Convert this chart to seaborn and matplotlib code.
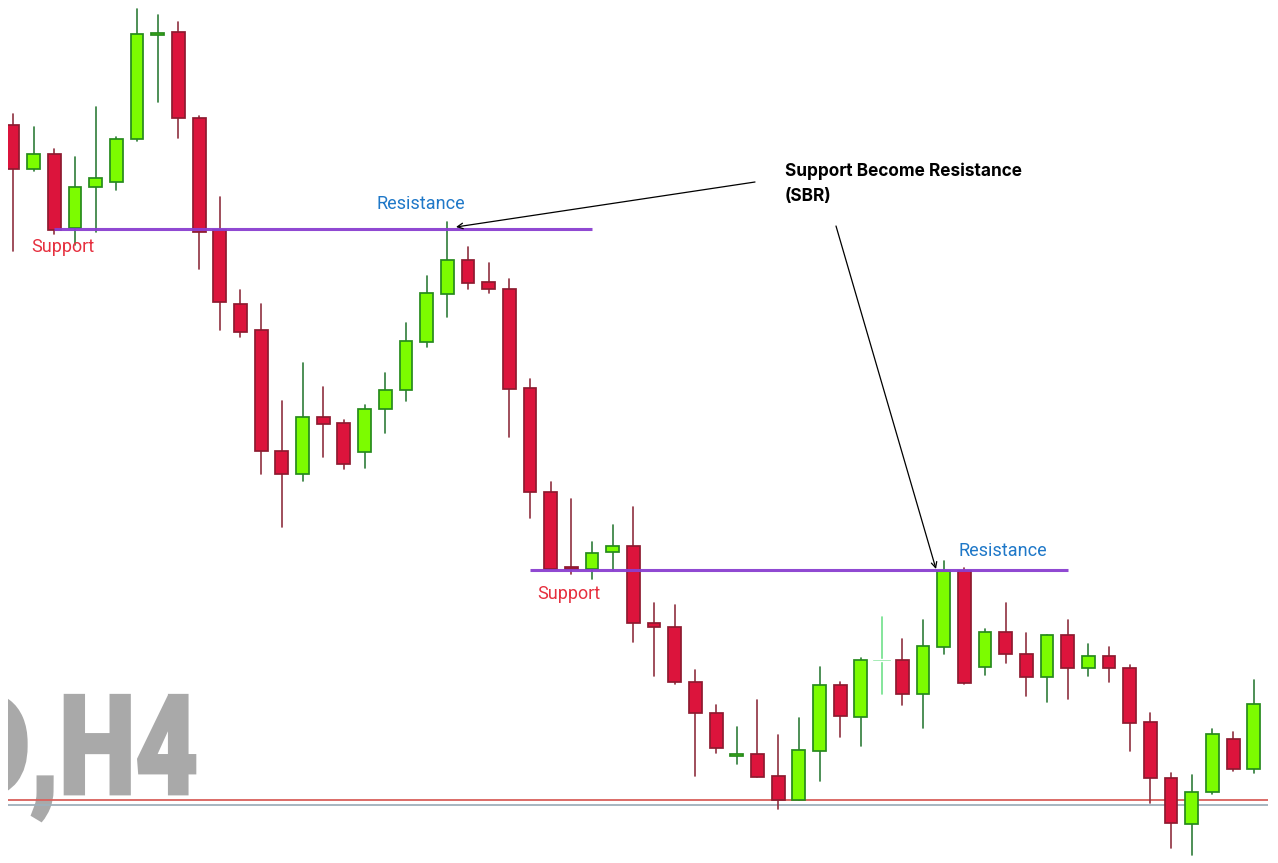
import pandas as pd
import numpy as np
import seaborn as sns
import matplotlib
matplotlib.use("Agg")
import matplotlib.pyplot as plt
from matplotlib.patheffects import AbstractPathEffect
from matplotlib.transforms import Affine2D

# candles, levels are in picture rows (axis runs downwards)
highs = [114, 127, 149, 157, 107, 137, 9, 15, 22, 116,
         197, 290, 304, 401, 363, 387, 420, 405, 373, 323,
         276, 222, 247, 263, 279, 379, 482, 499, 542, 525,
         507, 603, 605, 670, 705, 727, 700, 735, 718, 667,
         682, 658, 617, 639, 620, 561, 568, 629, 603, 633,
         635, 620, 644, 647, 665, 713, 773, 775, 729, 732, 680]
tops = [125, 154, 154, 187, 178, 139, 34, 33, 32, 118,
        230, 304, 330, 451, 417, 417, 423, 409, 390, 341,
        293, 260, 260, 282, 289, 388, 492, 567, 553, 546,
        546, 623, 627, 682, 713, 754, 754, 776, 750, 685,
        685, 660, 659, 660, 646, 571, 571, 632, 632, 654,
        635, 635, 656, 656, 668, 722, 778, 792, 734, 739, 704]
bottoms = [169, 169, 230, 228, 187, 182, 139, 35, 118, 232,
           302, 332, 451, 474, 474, 424, 464, 452, 409, 390,
           342, 294, 283, 289, 389, 492, 569, 569, 569, 552,
           623, 627, 682, 713, 748, 756, 777, 800, 800, 751,
           716, 717, 661, 694, 694, 647, 683, 667, 654, 677,
           677, 668, 668, 668, 723, 778, 823, 824, 792, 769, 769]
lows = [251, 171, 234, 245, 232, 190, 141, 102, 138, 269,
        330, 337, 474, 527, 481, 457, 469, 468, 433, 401,
        347, 317, 289, 293, 437, 518, 569, 574, 579, 570,
        642, 676, 684, 776, 753, 764, 777, 809, 800, 781,
        737, 746, 694, 705, 728, 654, 684, 675, 663, 696,
        702, 699, 676, 682, 751, 803, 848, 855, 794, 771, 773]
bull = [0, 1, 0, 1, 1, 1, 1, 1, 0, 0,
        0, 0, 0, 0, 1, 0, 0, 1, 1, 1,
        1, 1, 0, 0, 0, 0, 0, 0, 1, 1,
        0, 0, 0, 0, 0, 1, 0, 0, 1, 1,
        0, 1, 1, 0, 1, 1, 0, 1, 0, 0,
        1, 0, 1, 0, 0, 0, 0, 1, 1, 0, 1]
faded = 42  # the pale doji

support_levels = [229, 570]
support_spans = [(2, 28), (25, 51)]
floor_red = 800
floor_grey = 805

RED = "#dc143c"
RED_EDGE = "#8e1a30"
RED_WICK = "#8f3040"
GREEN = "#7cfc00"
GREEN_EDGE = "#268a1c"
GREEN_WICK = "#2f7d3a"
PALE = "#6fe08a"
PURPLE = "#8a3fd0"

df = pd.DataFrame({"i": np.arange(len(highs)), "high": highs, "top": tops,
                   "bottom": bottoms, "low": lows, "bull": bull})
df["body"] = df["bottom"] - df["top"]

PX = 20.68
def xd(p):
    return (p - 13) / PX


class Squeeze(AbstractPathEffect):
    # narrows the glyphs about a fixed pixel column, the watermark font is condensed
    def __init__(self, x0, sx, stroke):
        super().__init__()
        self.x0, self.sx, self.stroke = x0, sx, stroke

    def draw_path(self, renderer, gc, tpath, affine, rgbFace=None):
        t = affine + Affine2D().translate(-self.x0, 0).scale(self.sx, 1).translate(self.x0, 0)
        gc0 = renderer.new_gc()
        gc0.copy_properties(gc)
        gc0.set_foreground(rgbFace)
        gc0.set_linewidth(self.stroke)
        gc0.set_joinstyle("miter")
        renderer.draw_path(gc0, tpath, t, rgbFace)
        gc0.restore()


sns.set_theme(style="white")
plt.rcParams["font.family"] = ["Roboto", "DejaVu Sans"]

fig = plt.figure(figsize=(12.78, 8.63), dpi=100)
ax = fig.add_axes([8 / 1278, 0, 1260 / 1278, 1])

# watermark, clipped by the chart's left edge
mark = ax.text(xd(198), 794, "D,H4", ha="right", va="baseline", fontsize=100,
               color="#a9a9a9", fontweight=900, clip_on=True, zorder=0,
               family=["Roboto", "Liberation Sans"])
mark.set_path_effects([Squeeze(198, 0.78, 2.0)])

ax.axhline(floor_red, color="#d9605c", lw=1.3, zorder=1)
ax.axhline(floor_grey, color="#9fb0bb", lw=1.3, zorder=1)

# wicks
wicks = df.melt(id_vars=["i", "bull"], value_vars=["high", "low"], value_name="level")
wicks["kind"] = wicks["bull"].map({0: "bear", 1: "bull"})
wicks.loc[wicks["i"] == faded, "kind"] = "pale"
sns.lineplot(data=wicks, x="i", y="level", units="i", estimator=None, hue="kind",
             palette={"bear": RED_WICK, "bull": GREEN_WICK, "pale": PALE},
             lw=1.2, legend=False, ax=ax, zorder=2, sort=False)

# bodies
for flag, face, edge in [(0, RED, RED_EDGE), (1, GREEN, GREEN_EDGE)]:
    sub = df[df["bull"] == flag]
    sub = sub[sub["i"] != faded]
    sns.barplot(x=sub["i"].to_numpy(), y=sub["body"].to_numpy(), bottom=sub["top"].to_numpy(),
                native_scale=True, orient="x", width=0.62, color=face, saturation=1,
                errorbar=None, edgecolor=edge, linewidth=1.25, ax=ax, zorder=3)
pale = df[df["i"] == faded]
sns.barplot(x=pale["i"].to_numpy(), y=pale["body"].to_numpy(), bottom=pale["top"].to_numpy(),
            native_scale=True, orient="x", width=0.9, color=PALE, saturation=1,
            errorbar=None, ax=ax, zorder=3)

# support / resistance lines
for level, (a, b) in zip(support_levels, support_spans):
    ax.plot([a, b], [level, level], color=PURPLE, lw=2.2, alpha=0.95, zorder=4,
            solid_capstyle="butt")

ax.set_xlim(xd(8), xd(1268))
ax.set_ylim(863, 0)
ax.set_axis_off()

ax.text(xd(31), 247, "Support", color="#e6303f", fontsize=13, va="center", zorder=5)
ax.text(xd(537), 594, "Support", color="#e6303f", fontsize=13, va="center", zorder=5)
ax.text(xd(377), 204, "Resistance", color="#1f78c8", fontsize=13, va="center", zorder=5)
ax.text(xd(958), 551, "Resistance", color="#1f78c8", fontsize=13, va="center", zorder=5)
ax.text(xd(785), 171, "Support Become Resistance", color="black", fontsize=12.4,
        fontweight="bold", va="center", zorder=5, family=["Inter", "Roboto"])
ax.text(xd(785), 196, "(SBR)", color="black", fontsize=12.4,
        fontweight="bold", va="center", zorder=5, family=["Inter", "Roboto"])

arrow = dict(arrowstyle="->", color="black", lw=0.9, shrinkA=0, shrinkB=0, mutation_scale=10)
ax.annotate("", xy=(xd(456), 227), xytext=(xd(755), 182), arrowprops=arrow, zorder=6)
ax.annotate("", xy=(xd(936), 569), xytext=(xd(836), 226), arrowprops=arrow, zorder=6)

fig.savefig("out.png", dpi=100, facecolor="white")
